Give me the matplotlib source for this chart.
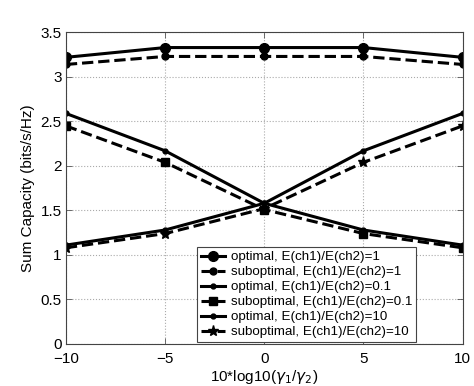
import matplotlib
matplotlib.use("Agg")
import matplotlib.pyplot as plt

plt.rcParams['font.family'] = ['Liberation Sans', 'DejaVu Sans']

x = [-10, -5, 0, 5, 10]
opt_1 = [3.22, 3.33, 3.33, 3.33, 3.22]
sub_1 = [3.14, 3.23, 3.23, 3.23, 3.14]
opt_01 = [2.59, 2.17, 1.58, 1.28, 1.11]
sub_01 = [2.45, 2.04, 1.51, 1.24, 1.08]
opt_10 = [1.11, 1.28, 1.58, 2.17, 2.59]
sub_10 = [1.08, 1.24, 1.52, 2.04, 2.45]

labels = ['optimal, E(ch1)/E(ch2)=1', 'suboptimal, E(ch1)/E(ch2)=1',
          'optimal, E(ch1)/E(ch2)=0.1', 'suboptimal, E(ch1)/E(ch2)=0.1',
          'optimal, E(ch1)/E(ch2)=10', 'suboptimal, E(ch1)/E(ch2)=10']

fig = plt.figure(figsize=(4.74, 3.86), dpi=100)
ax = fig.add_axes([0.139, 0.109, 0.837, 0.807])

lw = 2.2
ax.plot(x, opt_1, '-', color='k', lw=lw, marker='o', ms=7, label=labels[0])
ax.plot(x, sub_1, '--', color='k', lw=lw, marker='o', ms=5, label=labels[1])
ax.plot(x, opt_01, '-', color='k', lw=lw, marker='.', ms=7, label=labels[2])
ax.plot(x, sub_01, '--', color='k', lw=lw, marker='s', ms=5.5, label=labels[3])
ax.plot(x, opt_10, '-', color='k', lw=lw, marker='.', ms=7, label=labels[4])
ax.plot(x, sub_10, '--', color='k', lw=lw, marker='*', ms=8, label=labels[5])

ax.set_xlim(-10, 10)
ax.set_ylim(0, 3.5)
ax.set_xticks(x)
ax.set_xticklabels(['\u221210', '\u22125', '0', '5', '10'])
ax.set_yticks([0, 0.5, 1, 1.5, 2, 2.5, 3, 3.5])
ax.set_yticklabels(['0', '0.5', '1', '1.5', '2', '2.5', '3', '3.5'])
ax.tick_params(direction='in', labelsize=11, length=4, top=True, right=True, width=0.6, color='#555555')
ax.tick_params(axis='y', pad=3)
ax.tick_params(axis='x', pad=5.5)
ax.grid(True, linestyle=':', color='#aaaaaa', linewidth=0.8)
for s in ax.spines.values():
    s.set_color('#444444')
    s.set_linewidth(0.8)

ax.set_xlabel('10*log10($\\gamma_1$/$\\gamma_2$)', fontsize=11, labelpad=2)
ax.set_ylabel('Sum Capacity (bits/s/Hz)', fontsize=11)

leg = ax.legend(loc='lower left', bbox_to_anchor=(0.331, 0.005), fontsize=9.6,
                handlelength=1.75, handletextpad=0.45,
                borderpad=0.3, labelspacing=0.2, fancybox=False, framealpha=1,
                edgecolor='#444444', borderaxespad=0.0)
leg.get_frame().set_linewidth(0.8)

fig.savefig('out.png', dpi=100)
